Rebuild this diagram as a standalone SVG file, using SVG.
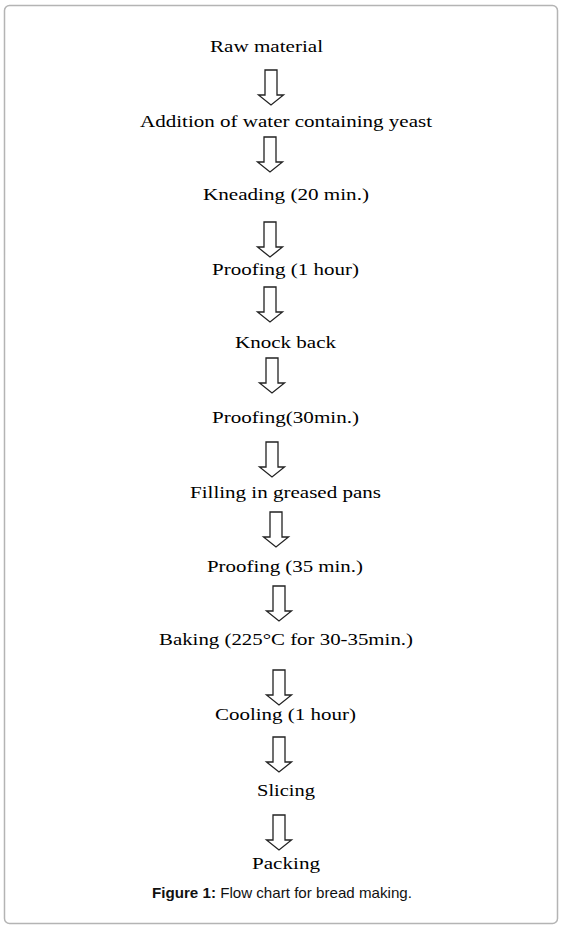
<svg xmlns="http://www.w3.org/2000/svg" xmlns:xlink="http://www.w3.org/1999/xlink" width="567" height="930" viewBox="0 0 567 930">
<style>
.frame{fill:#fff;stroke:#b4b4b4;stroke-width:1.5}
.lbl{font-family:"Liberation Serif","Times New Roman",serif;font-size:16.5px;fill:#000;text-anchor:start}
.cap{font-family:"Liberation Sans",Arial,sans-serif;font-size:15px;fill:#111}
.arr{fill:#fff;stroke:#222;stroke-width:1.3;stroke-linejoin:miter}
</style>
<defs>
<path id="arrow" class="arr" d="M-6,0 H6 V25 H12.5 L0,35 L-12.5,25 H-6 Z"/>
</defs>
<rect class="frame" x="4.5" y="5.5" width="553" height="918" rx="5"/>
<g id="connectors">
<use xlink:href="#arrow" transform="translate(271,70)"/>
<use xlink:href="#arrow" transform="translate(270,137)"/>
<use xlink:href="#arrow" transform="translate(270,222)"/>
<use xlink:href="#arrow" transform="translate(270,287)"/>
<use xlink:href="#arrow" transform="translate(272,358)"/>
<use xlink:href="#arrow" transform="translate(272,442)"/>
<use xlink:href="#arrow" transform="translate(276,512)"/>
<use xlink:href="#arrow" transform="translate(279,586)"/>
<use xlink:href="#arrow" transform="translate(279,670)"/>
<use xlink:href="#arrow" transform="translate(279,737)"/>
<use xlink:href="#arrow" transform="translate(279,815)"/>
</g>
<g id="n1"><text class="lbl" x="210" y="52" textLength="113" lengthAdjust="spacingAndGlyphs">Raw material</text></g>
<g id="n2"><text class="lbl" x="140" y="127" textLength="292" lengthAdjust="spacingAndGlyphs">Addition of water containing yeast</text></g>
<g id="n3"><text class="lbl" x="203" y="200" textLength="166" lengthAdjust="spacingAndGlyphs">Kneading (20 min.)</text></g>
<g id="n4"><text class="lbl" x="212" y="275" textLength="147" lengthAdjust="spacingAndGlyphs">Proofing (1 hour)</text></g>
<g id="n5"><text class="lbl" x="235" y="348" textLength="101" lengthAdjust="spacingAndGlyphs">Knock back</text></g>
<g id="n6"><text class="lbl" x="212" y="423" textLength="147" lengthAdjust="spacingAndGlyphs">Proofing(30min.)</text></g>
<g id="n7"><text class="lbl" x="190" y="498" textLength="191" lengthAdjust="spacingAndGlyphs">Filling in greased pans</text></g>
<g id="n8"><text class="lbl" x="207" y="572" textLength="156" lengthAdjust="spacingAndGlyphs">Proofing (35 min.)</text></g>
<g id="n9"><text class="lbl" x="159" y="645" textLength="254" lengthAdjust="spacingAndGlyphs">Baking (225°C for 30-35min.)</text></g>
<g id="n10"><text class="lbl" x="215" y="720" textLength="141" lengthAdjust="spacingAndGlyphs">Cooling (1 hour)</text></g>
<g id="n11"><text class="lbl" x="257" y="796" textLength="58" lengthAdjust="spacingAndGlyphs">Slicing</text></g>
<g id="n12"><text class="lbl" x="252" y="869" textLength="68" lengthAdjust="spacingAndGlyphs">Packing</text></g>
<g id="caption"><text class="cap" x="152" y="898" textLength="260" lengthAdjust="spacingAndGlyphs"><tspan font-weight="bold">Figure 1:</tspan> Flow chart for bread making.</text></g>
</svg>
